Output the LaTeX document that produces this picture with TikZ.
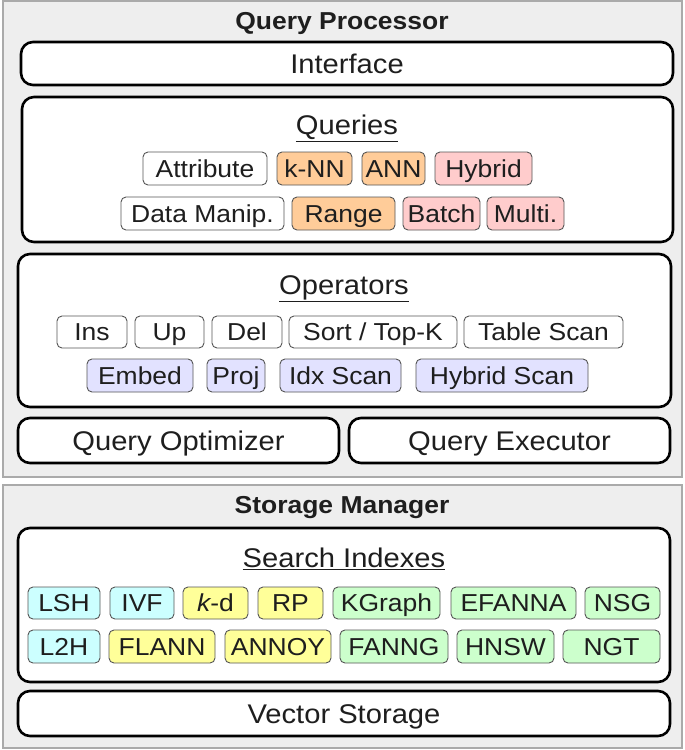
\documentclass[tikz,border=0pt]{standalone}
\usepackage{fontspec}
\setmainfont[FakeStretch=1.08]{Liberation Sans}
\definecolor{panelfill}{RGB}{238,238,238}
\definecolor{paneldraw}{RGB}{170,170,170}
\definecolor{chipdraw}{RGB}{85,85,85}
\definecolor{txt}{RGB}{30,30,30}
\definecolor{corange}{RGB}{255,204,153}
\definecolor{cpink}{RGB}{255,204,204}
\definecolor{clav}{RGB}{226,226,255}
\definecolor{ccyan}{RGB}{204,255,255}
\definecolor{cyellow}{RGB}{255,255,153}
\definecolor{cgreen}{RGB}{204,255,204}
\tikzset{
  capbig/.style={text height=24.3pt, text depth=5pt},
  capsmall/.style={text height=22pt, text depth=4.46pt},
  panel/.style={draw=paneldraw, fill=panelfill, line width=1.2pt, inner sep=0pt},
  bigbox/.style={draw=black, fill=white, line width=2.6pt, rounded corners=12pt, inner sep=0pt, text=txt, font=\fontsize{27}{30}\selectfont, capbig},
  title/.style={text=txt, font=\fontsize{24.5}{28}\selectfont\bfseries, inner sep=0pt, capsmall},
  sectlabel/.style={text=txt, font=\fontsize{27}{30}\selectfont, inner sep=0pt, capbig},
  chip/.style={draw=chipdraw, line width=0.9pt, rounded corners=5pt, inner sep=0pt, text=txt, font=\fontsize{24.5}{28}\selectfont, capsmall},
}
\begin{document}
\begin{tikzpicture}[x=1pt,y=-1pt]
\useasboundingbox (0,0) rectangle (685,750);
% panels
\node[panel, minimum width=679pt, minimum height=476pt] (qp) at (342.5,239) {};
\node[panel, minimum width=679pt, minimum height=263pt] (sm) at (342.5,616.5) {};
\node[title] (qpt) at (342,21) {Query Processor};
\node[title] (smt) at (342,505) {Storage Manager};
% big boxes
\node[bigbox, minimum width=652pt, minimum height=43pt] (iface) at (347,63.5) {Interface};
\node[bigbox, minimum width=651pt, minimum height=145pt] (queries) at (347.5,169.5) {};
\node[sectlabel] (ql) at (347,125) {\underline{Queries}};
\node[bigbox, minimum width=653pt, minimum height=153pt] (ops) at (344.5,330.5) {};
\node[sectlabel] (ol) at (344,285) {\underline{Operators}};
\node[bigbox, minimum width=321pt, minimum height=45pt] (qopt) at (178.5,440.5) {Query Optimizer};
\node[bigbox, minimum width=321pt, minimum height=45pt] (qexec) at (509.5,440.5) {Query Executor};
\node[bigbox, minimum width=652pt, minimum height=154pt] (sidx) at (344,605) {};
\node[sectlabel] (sl) at (344,558) {\underline{Search Indexes}};
\node[bigbox, minimum width=652pt, minimum height=45pt] (vstore) at (344,713.5) {Vector Storage};
% queries chips
\node[chip, fill=white, minimum width=124pt, minimum height=33pt] (attr) at (205,168.5) {Attribute};
\node[chip, fill=corange, minimum width=75pt, minimum height=33pt] (knn) at (314.5,168.5) {k-NN};
\node[chip, fill=corange, minimum width=63pt, minimum height=33pt] (ann) at (393.5,168.5) {ANN};
\node[chip, fill=cpink, minimum width=97pt, minimum height=33pt] (hyb) at (483.5,168.5) {Hybrid};
\node[chip, fill=white, minimum width=163pt, minimum height=33pt] (dman) at (202.5,213.5) {Data Manip.};
\node[chip, fill=corange, minimum width=103pt, minimum height=33pt] (range) at (343.5,213.5) {Range};
\node[chip, fill=cpink, minimum width=77pt, minimum height=33pt] (batch) at (441.5,213.5) {Batch};
\node[chip, fill=cpink, minimum width=77pt, minimum height=33pt] (multi) at (525.5,213.5) {Multi.};
% operator chips
\node[chip, fill=white, minimum width=70pt, minimum height=32pt] (ins) at (92,332) {Ins};
\node[chip, fill=white, minimum width=69pt, minimum height=32pt] (up) at (169.5,332) {Up};
\node[chip, fill=white, minimum width=70pt, minimum height=32pt] (del) at (247,332) {Del};
\node[chip, fill=white, minimum width=168pt, minimum height=32pt] (sort) at (373,332) {Sort / Top-K};
\node[chip, fill=white, minimum width=159pt, minimum height=32pt] (tscan) at (543.5,332) {Table Scan};
\node[chip, fill=clav, minimum width=106pt, minimum height=33pt] (embed) at (140,375.5) {Embed};
\node[chip, fill=clav, minimum width=58pt, minimum height=33pt] (proj) at (236,375.5) {Proj};
\node[chip, fill=clav, minimum width=121pt, minimum height=33pt] (iscan) at (340.5,375.5) {Idx Scan};
\node[chip, fill=clav, minimum width=172pt, minimum height=33pt] (hscan) at (502,375.5) {Hybrid Scan};
% index chips
\node[chip, fill=ccyan, minimum width=72pt, minimum height=32pt] (lsh) at (64,603) {LSH};
\node[chip, fill=ccyan, minimum width=64pt, minimum height=32pt] (ivf) at (142,603) {IVF};
\node[chip, fill=cyellow, minimum width=65pt, minimum height=32pt] (kd) at (215.5,603) {\itshape k\upshape -d};
\node[chip, fill=cyellow, minimum width=65pt, minimum height=32pt] (rp) at (290.5,603) {RP};
\node[chip, fill=cgreen, minimum width=107pt, minimum height=32pt] (kg) at (386.5,603) {KGraph};
\node[chip, fill=cgreen, minimum width=125pt, minimum height=32pt] (efanna) at (513.5,603) {EFANNA};
\node[chip, fill=cgreen, minimum width=75pt, minimum height=32pt] (nsg) at (622.5,603) {NSG};
\node[chip, fill=ccyan, minimum width=72pt, minimum height=33pt] (l2h) at (64,646.5) {L2H};
\node[chip, fill=cyellow, minimum width=106pt, minimum height=33pt] (flann) at (162,646.5) {FLANN};
\node[chip, fill=cyellow, minimum width=106pt, minimum height=33pt] (annoy) at (278,646.5) {ANNOY};
\node[chip, fill=cgreen, minimum width=108pt, minimum height=33pt] (fanng) at (394,646.5) {FANNG};
\node[chip, fill=cgreen, minimum width=97pt, minimum height=33pt] (hnsw) at (505.5,646.5) {HNSW};
\node[chip, fill=cgreen, minimum width=97pt, minimum height=33pt] (ngt) at (611.5,646.5) {NGT};
\end{tikzpicture}
\end{document}
